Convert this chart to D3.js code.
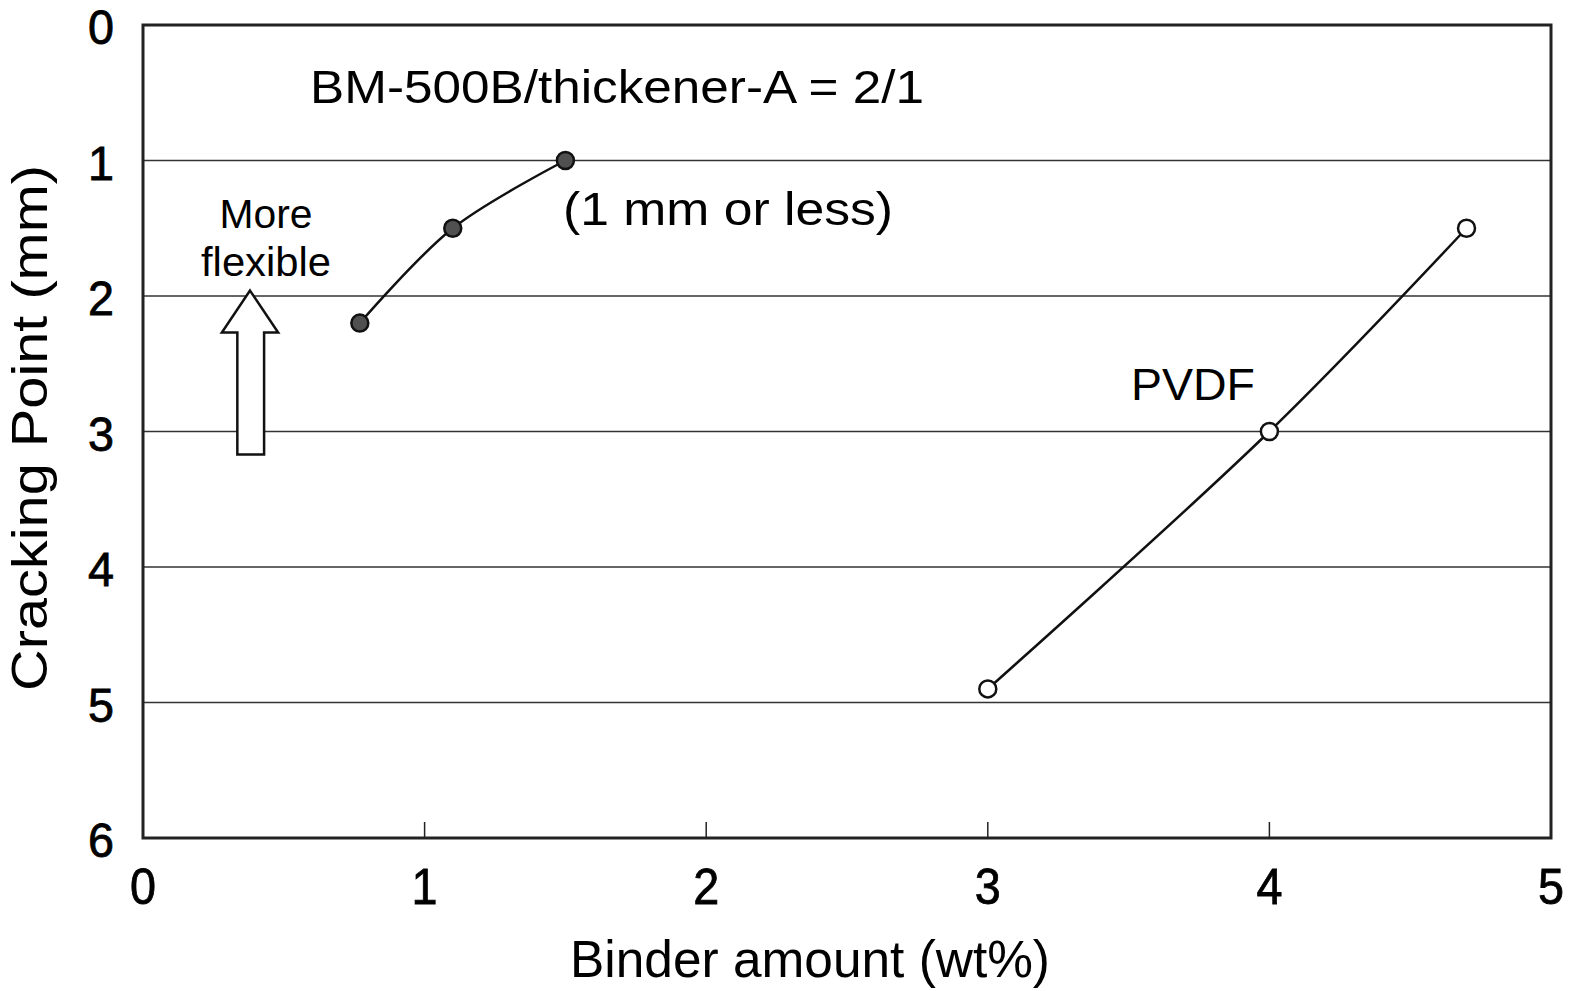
<!DOCTYPE html>
<html>
<head>
<meta charset="utf-8">
<script src="https://cdn.jsdelivr.net/npm/d3@7"></script>
<style>
  body { margin: 0; background: #fff; }
  text { font-family: "Liberation Sans", Arial, sans-serif; fill: #000; }
</style>
</head>
<body>
<svg id="chart"></svg>
<script>
// data
var xTicks = [0, 1, 2, 3, 4, 5];
var yTicks = [0, 1, 2, 3, 4, 5, 6];
var bmBinder = [0.77, 1.1, 1.5];
var bmCrack = [2.2, 1.5, 1.0];
var pvdfBinder = [3.0, 4.0, 4.7];
var pvdfCrack = [4.9, 3.0, 1.5];

// hollow "more flexible" arrow, in data units
var arrowX = [0.38, 0.48, 0.43, 0.43, 0.335, 0.335, 0.28];
var arrowY = [1.96, 2.27, 2.27, 3.17, 3.17, 2.27, 2.27];

var W = 1575, H = 991;
var margin = { top: 25, right: 24, bottom: 153, left: 143 };

var svg = d3.select("#chart").attr("width", W).attr("height", H);
svg.append("rect").attr("width", W).attr("height", H).attr("fill", "#fff");

var x = d3.scaleLinear().domain([0, 5]).range([margin.left, W - margin.right]);
var y = d3.scaleLinear().domain([0, 6]).range([margin.top, H - margin.bottom]);

// horizontal gridlines
svg.append("g")
    .selectAll("line")
    .data(yTicks.filter(d => d > 0 && d < 6))
    .enter()
    .append("line")
    .attr("x1", x(0)).attr("x2", x(5))
    .attr("y1", d => y(d)).attr("y2", d => y(d))
    .attr("stroke", "#333")
    .attr("stroke-width", 1.5);

// plot frame
svg.append("rect")
    .attr("x", x(0)).attr("y", y(0))
    .attr("width", x(5) - x(0)).attr("height", y(6) - y(0))
    .attr("fill", "none")
    .attr("stroke", "#222")
    .attr("stroke-width", 3);

// x ticks point inward
svg.append("g")
    .selectAll("line")
    .data(xTicks.slice(1, -1))
    .enter()
    .append("line")
    .attr("x1", d => x(d)).attr("x2", d => x(d))
    .attr("y1", y(6)).attr("y2", y(6) - 16)
    .attr("stroke", "#222")
    .attr("stroke-width", 1.5);

// tick labels (a bit heavier, like the original)
svg.append("g")
    .selectAll("text")
    .data(yTicks)
    .enter()
    .append("text")
    .attr("x", 114)
    .attr("y", d => y(d) + 2)
    .attr("dy", "0.36em")
    .attr("text-anchor", "end")
    .attr("font-size", 48)
    .attr("textLength", 26)
    .attr("lengthAdjust", "spacingAndGlyphs")
    .attr("stroke", "#000")
    .attr("stroke-width", 0.8)
    .text(d => d);

svg.append("g")
    .selectAll("text")
    .data(xTicks)
    .enter()
    .append("text")
    .attr("x", d => x(d))
    .attr("y", 904)
    .attr("text-anchor", "middle")
    .attr("font-size", 50)
    .attr("textLength", 26)
    .attr("lengthAdjust", "spacingAndGlyphs")
    .attr("stroke", "#000")
    .attr("stroke-width", 0.8)
    .text(d => d);

// axis titles
svg.append("text")
    .attr("x", 810)
    .attr("y", 977)
    .attr("text-anchor", "middle")
    .attr("font-size", 52)
    .attr("textLength", 480)
    .attr("lengthAdjust", "spacingAndGlyphs")
    .text("Binder amount (wt%)");

svg.append("text")
    .attr("transform", "translate(47," + 428 + ") rotate(-90)")
    .attr("text-anchor", "middle")
    .attr("font-size", 50)
    .attr("textLength", 526)
    .attr("lengthAdjust", "spacingAndGlyphs")
    .text("Cracking Point (mm)");

// series
var line = d3.line()
    .x(d => x(d[0]))
    .y(d => y(d[1]))
    .curve(d3.curveCatmullRom.alpha(0.5));

var bm = d3.zip(bmBinder, bmCrack);
var pvdf = d3.zip(pvdfBinder, pvdfCrack);

svg.append("path").datum(bm)
    .attr("d", line)
    .attr("fill", "none")
    .attr("stroke", "#111")
    .attr("stroke-width", 2.5);

svg.append("path").datum(pvdf)
    .attr("d", line)
    .attr("fill", "none")
    .attr("stroke", "#111")
    .attr("stroke-width", 2.5);

svg.append("g")
    .selectAll("circle")
    .data(bm)
    .enter()
    .append("circle")
    .attr("cx", d => x(d[0]))
    .attr("cy", d => y(d[1]))
    .attr("r", 8.5)
    .attr("fill", "#505050")
    .attr("stroke", "#111")
    .attr("stroke-width", 2.5);

svg.append("g")
    .selectAll("circle")
    .data(pvdf)
    .enter()
    .append("circle")
    .attr("cx", d => x(d[0]))
    .attr("cy", d => y(d[1]))
    .attr("r", 8.5)
    .attr("fill", "#fff")
    .attr("stroke", "#111")
    .attr("stroke-width", 2.5);

// arrow
svg.append("polygon")
    .attr("points", d3.zip(arrowX, arrowY).map(p => x(p[0]) + "," + y(p[1])).join(" "))
    .attr("fill", "#fff")
    .attr("stroke", "#111")
    .attr("stroke-width", 2.5);

// annotations
function note(tx, ty, str, size, len, anchor) {
    svg.append("text")
        .attr("x", tx).attr("y", ty)
        .attr("text-anchor", anchor || "start")
        .attr("font-size", size)
        .attr("textLength", len)
        .attr("lengthAdjust", "spacingAndGlyphs")
        .text(str);
}
note(310, 103, "BM-500B/thickener-A = 2/1", 46, 614);
note(563, 225, "(1 mm or less)", 46, 330);
note(1131, 400, "PVDF", 44, 124);
note(266, 228, "More", 40, 93, "middle");
note(266, 276, "flexible", 40, 130, "middle");
</script>
</body>
</html>
